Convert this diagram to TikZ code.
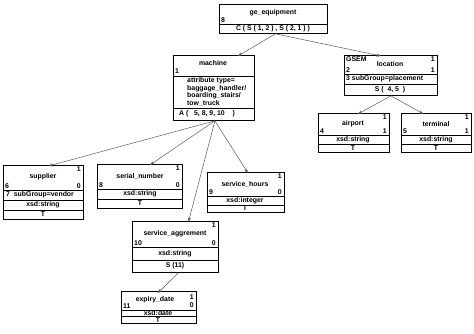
\documentclass[tikz,border=0pt]{standalone}
\usepackage{fontspec}
\setmainfont{Liberation Sans}
\usetikzlibrary{arrows.meta}
\begin{document}
\begin{tikzpicture}[x=1pt,y=-1pt,
  box/.style={draw=black,line width=0.8pt,inner sep=0pt,anchor=north west},
  txt/.style={inner sep=0pt,font=\fontsize{6.9}{7.5}\selectfont\bfseries},
  lt/.style={txt,anchor=west},
  rt/.style={txt,anchor=east},
  div/.style={line width=0.8pt},
  conn/.style={draw=black!65,line width=0.5pt,-{Stealth[length=4.5pt,width=3.2pt]}}]
\useasboundingbox (0,0) rectangle (474,334);

% ge_equipment
\node[box,minimum width=108pt,minimum height=29pt] (ge) at (219,4) {};
\draw[div] (219,24) -- (327,24);
\node[txt] (geN) at (273,13) {ge\_equipment};
\node[lt] (ge8) at (221,20.5) {8};
\node[txt] (geC) at (273,28.5) {C ( S ( 1, 2 ) , S ( 2, 1 ) )};

% machine
\node[box,minimum width=81pt,minimum height=65pt] (mach) at (173,55) {};
\draw[div] (173,76) -- (254,76);
\draw[div] (173,108) -- (254,108);
\node[txt] (machN) at (213,63) {machine};
\node[lt] (mach1) at (175,71) {1};
\node[lt] (machA1) at (187,81) {attribute type=};
\node[lt] (machA2) at (187,88.5) {baggage\_handler/};
\node[lt] (machA3) at (187,96) {boarding\_stairs/};
\node[lt] (machA4) at (187,103) {tow\_truck};
\node[lt] (machS) at (179,114) {A (\ \ \ 5, 8, 9, 10\ \ \ \ )};

% location
\node[box,minimum width=93pt,minimum height=40pt] (loc) at (344,55) {};
\draw[div] (344,74) -- (437,74);
\draw[div] (344,84) -- (437,84);
\node[lt] (locG) at (346,59) {GSEM};
\node[rt] (loc1a) at (435,59) {1};
\node[txt] (locN) at (390,64) {location};
\node[lt] (loc2) at (346,70) {2};
\node[rt] (loc1b) at (435,70) {1};
\node[lt] (locS) at (346,79) {3 subGroup=placement};
\node[txt] (locT) at (390,89.5) {S (\ \ 4, 5\ \ )};

% airport
\node[box,minimum width=71pt,minimum height=39pt] (air) at (318,113) {};
\draw[div] (318,135) -- (389,135);
\draw[div] (318,144) -- (389,144);
\node[rt] (air1a) at (387,117) {1};
\node[txt] (airN) at (353,124) {airport};
\node[lt] (air4) at (320,131) {4};
\node[rt] (air1b) at (387,131) {1};
\node[txt] (airT) at (353,139.5) {xsd:string};
\node[txt] (airX) at (353,148) {T};

% terminal
\node[box,minimum width=70pt,minimum height=39pt] (ter) at (401,113) {};
\draw[div] (401,135) -- (471,135);
\draw[div] (401,144) -- (471,144);
\node[rt] (ter1a) at (469,117) {1};
\node[txt] (terN) at (436,124) {terminal};
\node[lt] (ter5) at (403,131) {5};
\node[rt] (ter1b) at (469,131) {1};
\node[txt] (terT) at (436,139.5) {xsd:string};
\node[txt] (terX) at (436,148) {T};

% supplier
\node[box,minimum width=80pt,minimum height=54pt] (sup) at (3,165) {};
\draw[div] (3,190) -- (83,190);
\draw[div] (3,200) -- (83,200);
\draw[div] (3,210) -- (83,210);
\node[rt] (sup1) at (81,169) {1};
\node[txt] (supN) at (43,177) {supplier};
\node[lt] (sup6) at (5,186) {6};
\node[rt] (sup0) at (81,186) {0};
\node[lt] (supS) at (6,195) {7\ \ subGroup=vendor};
\node[txt] (supT) at (43,205) {xsd:string};
\node[txt] (supX) at (43,214.5) {T};

% serial_number
\node[box,minimum width=85pt,minimum height=44pt] (ser) at (97,164) {};
\draw[div] (97,189) -- (182,189);
\draw[div] (97,199) -- (182,199);
\node[rt] (ser1) at (180,168) {1};
\node[txt] (serN) at (140,176) {serial\_number};
\node[lt] (ser8) at (99,185) {8};
\node[rt] (ser0) at (180,185) {0};
\node[txt] (serT) at (140,194) {xsd:string};
\node[txt] (serX) at (140,203.5) {T};

% service_hours
\node[box,minimum width=77pt,minimum height=40pt] (hrs) at (207,172) {};
\draw[div] (207,196) -- (284,196);
\draw[div] (207,205) -- (284,205);
\node[rt] (hrs1) at (282,176) {1};
\node[txt] (hrsN) at (245,184) {service\_hours};
\node[lt] (hrs9) at (209,192) {9};
\node[rt] (hrs0) at (282,192) {0};
\node[txt] (hrsT) at (245,200.5) {xsd:integer};
\node[txt] (hrsX) at (245,208.5) {T};

% service_aggrement
\node[box,minimum width=86pt,minimum height=51pt] (agg) at (132,221) {};
\draw[div] (132,247) -- (218,247);
\draw[div] (132,260) -- (218,260);
\node[rt] (agg1) at (216,225) {1};
\node[txt] (aggN) at (175,234) {service\_aggrement};
\node[lt] (agg10) at (134,243) {10};
\node[rt] (agg0) at (216,243) {0};
\node[txt] (aggT) at (175,253.5) {xsd:string};
\node[txt] (aggX) at (175,266) {S (11)};

% expiry_date
\node[box,minimum width=75pt,minimum height=32pt] (exp) at (121,291) {};
\draw[div] (121,310) -- (196,310);
\draw[div] (121,316.5) -- (196,316.5);
\node[rt] (exp1) at (194,297) {1};
\node[txt] (expN) at (155,300) {expiry\_date};
\node[lt] (exp11) at (123,306) {11};
\node[rt] (exp0) at (194,305) {0};
\node[txt] (expT) at (158,313.2) {xsd:date};
\node[txt] (expX) at (158,319.8) {T};

% connectors
\draw[conn] ([xshift=2pt]ge.south) -- ([xshift=24pt,yshift=-1pt]mach.north);
\draw[conn] ([xshift=2pt]ge.south) -- ([xshift=-10pt,yshift=-1pt]loc.north);
\draw[conn] ([xshift=1pt]mach.south) -- ([xshift=5pt,yshift=-1pt]sup.north);
\draw[conn] ([xshift=1pt]mach.south) -- ([xshift=10pt,yshift=-1pt]ser.north);
\draw[conn] ([xshift=1pt]mach.south) -- ([xshift=2pt,yshift=-1pt]hrs.north);
\draw[conn] ([xshift=1pt]mach.south) -- ([xshift=13pt,yshift=-1pt]agg.north);
\draw[conn] (loc.south) -- ([xshift=4pt,yshift=-1pt]air.north);
\draw[conn] (loc.south) -- ([xshift=-13pt,yshift=-1pt]ter.north);
\draw[conn] ([xshift=3pt]agg.south) -- ([xshift=-1pt,yshift=-2pt]exp.north);
\end{tikzpicture}
\end{document}
